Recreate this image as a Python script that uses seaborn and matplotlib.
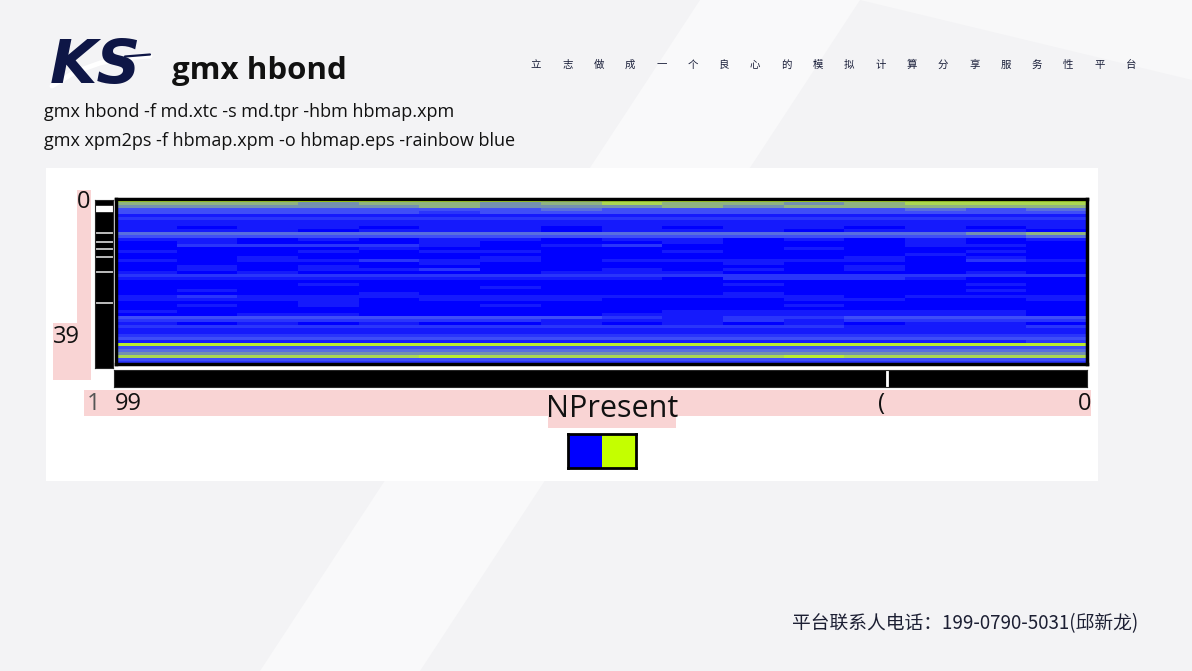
import numpy as np
import pandas as pd
import matplotlib
matplotlib.use("Agg")
from matplotlib import pyplot as plt
from matplotlib.colors import LinearSegmentedColormap, ListedColormap
from matplotlib.patches import Rectangle, Polygon
import seaborn as sns

sns.set_style("white")
plt.rcParams['font.family'] = ['Open Sans', 'Noto Sans CJK SC', 'DejaVu Sans']

# hbond existence map, one string per hbond row, each digit = fraction (x10)
# of frames where the bond is present, in 16 consecutive time blocks
hbond_rows = [
    "8889888788898888",
    "6665665676656777",
    "5555565556566666",
    "3333333433333434",
    "3333323333333333",
    "1111111111111111",
    "2222222222222222",
    "1111111111111111",
    "1111111111111111",
    "1011011010110101",
    "1110111011101110",
    "4444444444444456",
    "3333333333333334",
    "1101011011010101",
    "0100010001000100",
    "0222210120000110",
    "0000100000010000",
    "1001011001000010",
    "0000000000000100",
    "0010001000001010",
    "1011211011111021",
    "0000010000100000",
    "0101000000001000",
    "0101120010101000",
    "1010000111000010",
    "2222222222222222",
    "1111111110222100",
    "0000000000000000",
    "0001000000100010",
    "0000001000000000",
    "0100000000000010",
    "0000100000100000",
    "1211111111110111",
    "1111011100011001",
    "0001000000000000",
    "0101001000010000",
    "0000000000000000",
    "1000000001111110",
    "0011000011111110",
    "3333333321223333",
    "2222222111212222",
    "1010100101010110",
    "2222222222221112",
    "1111111111111111",
    "1111111111111111",
    "2222222222222222",
    "3333333333333333",
    "1111111111111112",
    "8888888888888888",
    "3333333333333333",
    "4444444444444444",
    "5555555555555555",
    "7777787777787777",
    "3333333333333333",
    "2222222222222222",
]
y_labels = ["0", "39"]
x_labels = ["1", "99", "(", "0"]
legend_title = "NPresent"
legend_values = [0, 1]

title = "gmx hbond"
commands = ["gmx hbond -f md.xtc -s md.tpr -hbm hbmap.xpm",
            "gmx xpm2ps -f hbmap.xpm -o hbmap.eps -rainbow blue"]
slogan = "立志做成一个良心的模拟计算分享服务性平台"
contact = "平台联系人电话：199-0790-5031(邱新龙)"

absent_color = "#0000ff"
present_color = "#c4ff00"

df = pd.DataFrame([[int(c) / 10 for c in r] for r in hbond_rows])

W, H = 1192, 671


def box(x0, y0, x1, y1):
    return [x0 / W, 1 - y1 / H, (x1 - x0) / W, (y1 - y0) / H]


fig = plt.figure(figsize=(W / 100, H / 100), dpi=100)
fig.patch.set_facecolor("#f3f3f5")

# background layer in pixel coordinates
bg = fig.add_axes([0, 0, 1, 1], zorder=-1)
bg.set_xlim(0, W)
bg.set_ylim(H, 0)
bg.axis("off")
bg.add_patch(Polygon([[700, 0], [860, 0], [420, 671], [260, 671]], color="#f9f9fa", lw=0))
bg.add_patch(Polygon([[860, 0], [1192, 0], [1192, 80]], color="#f8f8f9", lw=0))
bg.add_patch(Rectangle((46, 168), 1052, 313, color="white", lw=0))
pink = "#f9d4d4"
bg.add_patch(Rectangle((77, 190), 14, 190, color=pink, lw=0))
bg.add_patch(Rectangle((53, 323), 38, 57, color=pink, lw=0))
bg.add_patch(Rectangle((84, 390), 1007, 26, color=pink, lw=0))
bg.add_patch(Rectangle((548, 390), 128, 38, color=pink, lw=0))

# KS logo
bg.text(50, 67, "KS", fontsize=44, fontweight="heavy", fontstyle="italic",
        color="#0e1646", va="center", ha="left", family="DejaVu Sans")
xs = np.array([52, 75, 100, 125, 150])
ys = np.array([86, 72, 63, 58, 56])
bg.plot(xs, ys, color="white", lw=3.5, solid_capstyle="round")
bg.plot(xs[3:], ys[3:] - 1.5, color="#0e1646", lw=1.6)

# main hbond map
ax = fig.add_axes(box(116, 199, 1087, 364))
hb_cmap = LinearSegmentedColormap.from_list(
    "hb", [(0, absent_color), (0.35, "#4a5cf6"), (0.75, "#b8e83a"), (1, present_color)])
sns.heatmap(df, ax=ax, cmap=hb_cmap, vmin=0, vmax=1, cbar=False,
            xticklabels=False, yticklabels=False)
for s in ax.spines.values():
    s.set_visible(True)
    s.set_color("black")
    s.set_linewidth(2.5)

# black tick strips of the converted eps
axl = fig.add_axes(box(95, 200, 113, 368))
axl.set_facecolor("black")
axl.set_xlim(0, 1)
axl.set_ylim(368, 200)
axl.set_xticks([])
axl.set_yticks([])
axl.axhspan(206, 211, color="white")
for yy in [233, 242, 249, 257, 272, 303]:
    axl.axhline(yy, color="#dddddd", lw=1.2)

axb = fig.add_axes(box(114, 370, 1087, 387))
axb.set_facecolor("black")
axb.set_xlim(114, 1087)
axb.set_xticks([])
axb.set_yticks([])
axb.axvline(887, color="white", lw=2)

lab_kw = dict(fontsize=17, color="#111111", va="center", family="Open Sans")
fig.text(90 / W, 1 - 202 / H, y_labels[0], ha="right", **lab_kw)
fig.text(80 / W, 1 - 337 / H, y_labels[1], ha="right", **lab_kw)
fig.text(87 / W, 1 - 404 / H, x_labels[0], ha="left", color="#555555",
         fontsize=17, va="center", family="Open Sans")
fig.text(115 / W, 1 - 404 / H, x_labels[1], ha="left", **lab_kw)
fig.text(878 / W, 1 - 404 / H, x_labels[2], ha="left", **lab_kw)
fig.text(1091 / W, 1 - 404 / H, x_labels[3], ha="right", **lab_kw)
fig.text(612 / W, 1 - 409 / H, legend_title, ha="center", va="center",
         fontsize=22, color="#111111", family="Open Sans")

# two-colour legend
axc = fig.add_axes(box(568, 434, 636, 468))
sns.heatmap(pd.DataFrame([legend_values]), ax=axc,
            cmap=ListedColormap([absent_color, present_color]),
            vmin=0, vmax=1, cbar=False, xticklabels=False, yticklabels=False)
for s in axc.spines.values():
    s.set_visible(True)
    s.set_color("black")
    s.set_linewidth(2)

# slide texts
fig.text(172 / W, 1 - 71 / H, title, fontsize=22.5, fontweight="bold",
         color="#111111", va="center", ha="left", family="Open Sans")
for i, line in enumerate(commands):
    fig.text(44 / W, 1 - (112 + 29 * i) / H, line, fontsize=13,
             color="#111111", va="center", ha="left", family="Open Sans")
step = (1131 - 536) / (len(slogan) - 1)
for i, ch in enumerate(slogan):
    fig.text((536 + step * i) / W, 1 - 65 / H, ch, fontsize=7.5, color="#1a1f3a",
             ha="center", va="center", family="Noto Sans CJK SC")
fig.text(1138 / W, 1 - 624 / H, contact, fontsize=13.5, color="#1c1f33",
         ha="right", va="center", family=["Noto Sans CJK SC", "DejaVu Sans"])

fig.savefig("out.png", dpi=100, facecolor=fig.get_facecolor())
